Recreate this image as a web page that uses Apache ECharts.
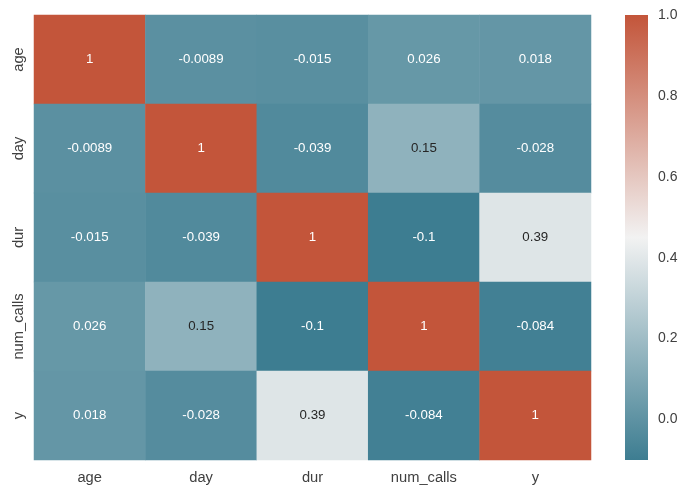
<!DOCTYPE html>
<html>
<head>
<meta charset="utf-8">
<script src="https://cdn.jsdelivr.net/npm/echarts@6/dist/echarts.min.js"></script>
<style>html,body{margin:0;padding:0;background:#fff;}#c{width:688px;height:494px;}</style>
</head>
<body>
<div id="c"></div>
<script>
const categories = ['age', 'day', 'dur', 'num_calls', 'y'];
const rowAge = [1, -0.0089, -0.015, 0.026, 0.018];
const rowDay = [-0.0089, 1, -0.039, 0.15, -0.028];
const rowDur = [-0.015, -0.039, 1, -0.1, 0.39];
const rowNumCalls = [0.026, 0.15, -0.1, 1, -0.084];
const rowY = [0.018, -0.028, 0.39, -0.084, 1];
const colorbarTicks = [0, 0.2, 0.4, 0.6, 0.8, 1.0];
const vmin = -0.1, vmax = 1;

const rows = [rowAge, rowDay, rowDur, rowNumCalls, rowY];
const data = [];
rows.forEach((r, i) => r.forEach((v, j) => data.push([j, i, v])));

const cLow = '#3d7d91', cMid = '#f2f2f2', cHigh = '#c3553a';
function hex(c){return [parseInt(c.slice(1,3),16),parseInt(c.slice(3,5),16),parseInt(c.slice(5,7),16)];}
function colorAt(v){
  const t = (v - vmin) / (vmax - vmin);
  let a, b, u;
  if (t <= 0.5) { a = hex(cLow); b = hex(cMid); u = t / 0.5; }
  else { a = hex(cMid); b = hex(cHigh); u = (t - 0.5) / 0.5; }
  return a.map((x, k) => x + (b[k] - x) * u);
}
function textColor(v){
  const c = colorAt(v).map(x => { x /= 255; return x <= 0.03928 ? x / 12.92 : Math.pow((x + 0.055) / 1.055, 2.4); });
  const L = 0.2126 * c[0] + 0.7152 * c[1] + 0.0722 * c[2];
  return L > 0.408 ? '#262626' : '#ffffff';
}

const chart = echarts.init(document.getElementById('c'));
const font = 'Liberation Sans, Arial, sans-serif';
chart.setOption({
  animation: false,
  backgroundColor: '#ffffff',
  grid: [
    {left: 34, top: 15, width: 557, height: 445},
    {left: 625, top: 15, width: 23, height: 445}
  ],
  xAxis: [
    {type: 'category', data: categories, gridIndex: 0, position: 'bottom',
     axisLine: {show: false}, axisTick: {show: false}, splitLine: {show: false},
     axisLabel: {color: '#404040', fontSize: 14.7, fontFamily: font, margin: 10}},
    {type: 'value', gridIndex: 1, min: 0, max: 1, show: false}
  ],
  yAxis: [
    {type: 'category', data: categories, gridIndex: 0, inverse: true,
     axisLine: {show: false}, axisTick: {show: false}, splitLine: {show: false},
     axisLabel: {color: '#404040', fontSize: 14.7, fontFamily: font, rotate: 90, margin: 8}},
    {type: 'value', gridIndex: 1, min: vmin, max: vmax, position: 'right',
     axisLine: {show: false}, axisTick: {show: false}, splitLine: {show: false},
     axisLabel: {color: '#404040', fontSize: 14, fontFamily: font, margin: 10,
       customValues: colorbarTicks, formatter: v => v.toFixed(1)}}
  ],
  visualMap: {
    show: false, min: vmin, max: vmax, dimension: 2, seriesIndex: 0,
    inRange: {color: [cLow, cMid, cHigh]}
  },
  series: [
    {type: 'heatmap', xAxisIndex: 0, yAxisIndex: 0,
     data: data.map(d => ({value: d, label: {color: textColor(d[2])}})),
     itemStyle: {borderWidth: 0},
     label: {show: true, fontSize: 13.3, fontFamily: font,
       formatter: p => String(p.value[2])},
     emphasis: {disabled: true}},
    {type: 'custom', xAxisIndex: 1, yAxisIndex: 1, data: [[0, vmin, vmax]],
     renderItem: function(params, api){
       const p0 = api.coord([0, api.value(2)]);
       const p1 = api.coord([1, api.value(1)]);
       return {type: 'rect', shape: {x: p0[0], y: p0[1], width: p1[0] - p0[0], height: p1[1] - p0[1]},
         style: {fill: new echarts.graphic.LinearGradient(0, 0, 0, 1, [
           {offset: 0, color: cHigh}, {offset: 0.5, color: cMid}, {offset: 1, color: cLow}])}};
     }}
  ]
});
</script>
</body>
</html>
